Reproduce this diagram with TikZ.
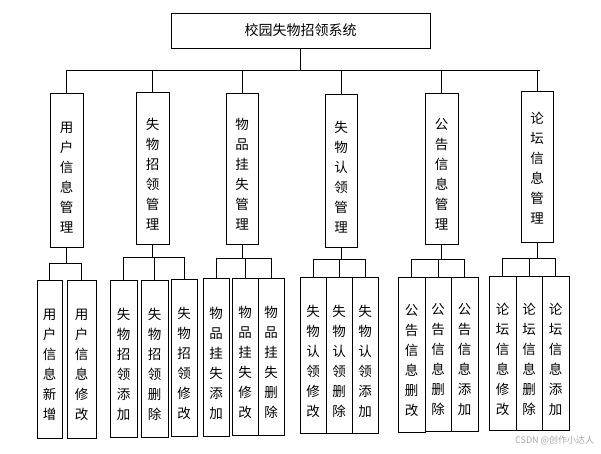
\documentclass[tikz,border=0pt]{standalone}
\usepackage{fontspec}
\setmainfont{Noto Sans CJK SC}
\begin{document}
\begin{tikzpicture}[x=1pt,y=-1pt,line width=0.9pt,
  box/.style={draw,inner sep=0pt},
  txt/.style={align=center,font=\fontsize{13.5}{20}\selectfont,inner sep=0pt}]
\useasboundingbox (0,0) rectangle (601,454);
\newcommand\bx[7]{\node[box,minimum width={(#3-#2)*1pt},minimum height={(#5-#4)*1pt},
  label={[txt,yshift=-#7pt]center:#6}] (#1) at ({(#2+#3)/2},{(#4+#5)/2}) {};}
\bx{root}{171}{430}{13}{48}{\fontsize{14}{16}\selectfont 校园失物招领系统}{0}
\bx{a}{50}{83}{93}{247}{用\\户\\信\\息\\管\\理}{8}
\bx{b}{136}{169}{92}{244}{失\\物\\招\\领\\管\\理}{6}
\bx{c}{226}{258}{93}{244}{物\\品\\挂\\失\\管\\理}{6}
\bx{d}{325}{357}{94}{247}{失\\物\\认\\领\\管\\理}{7}
\bx{e}{425}{458}{93}{244}{公\\告\\信\\息\\管\\理}{6}
\bx{f}{521}{553}{91}{242}{论\\坛\\信\\息\\管\\理}{2}
\coordinate (hl) at (67,70);
\coordinate (hr) at (540,70);
\draw (root.south) -- (root.south |- hl);
\draw (hl) -- (hr);
\foreach \n in {a,b,c,d,e,f} \draw (\n.north) -- (\n.north |- hl);
% level 3
\bx{a1}{37}{62}{280}{438}{用\\户\\信\\息\\新\\增}{6}
\bx{a2}{67}{96}{280}{438}{用\\户\\信\\息\\修\\改}{6}
\bx{b1}{110}{137}{280}{437}{失\\物\\招\\领\\添\\加}{6}
\bx{b2}{141}{168}{280}{437}{失\\物\\招\\领\\删\\除}{6}
\bx{b3}{171}{197}{279}{436}{失\\物\\招\\领\\修\\改}{6}
\bx{c1}{203}{229}{278}{436}{物\\品\\挂\\失\\添\\加}{6}
\bx{c2}{232}{258}{278}{435}{物\\品\\挂\\失\\修\\改}{6}
\bx{c3}{258}{284}{278}{435}{物\\品\\挂\\失\\删\\除}{6}
\bx{d1}{300}{326}{277}{433}{失\\物\\认\\领\\修\\改}{6}
\bx{d2}{326}{352}{277}{433}{失\\物\\认\\领\\删\\除}{6}
\bx{d3}{352}{378}{277}{433}{失\\物\\认\\领\\添\\加}{6}
\bx{e1}{398}{425}{277}{432}{公\\告\\信\\息\\删\\改}{6}
\bx{e2}{425}{451}{277}{431}{公\\告\\信\\息\\删\\除}{6}
\bx{e3}{451}{478}{277}{431}{公\\告\\信\\息\\添\\加}{6}
\bx{f1}{489}{516}{276}{430}{论\\坛\\信\\息\\修\\改}{6}
\bx{f2}{516}{542}{276}{430}{论\\坛\\信\\息\\删\\除}{6}
\bx{f3}{542}{569}{276}{430}{论\\坛\\信\\息\\添\\加}{6}
\coordinate (ya) at (0,263);
\coordinate (yb) at (0,257);
\coordinate (yc) at (0,258);
\coordinate (yd) at (0,259);
\coordinate (ye) at (0,259);
\coordinate (yf) at (0,258);
\foreach \n in {a,b,c,d,e,f} \draw (\n.south) -- (\n.south |- y\n);
\draw (a1.north) -- (a1.north |- ya) -| (a2.north);
\foreach \n in {b,c,d,e,f} {
  \draw (\n1.north) -- (\n1.north |- y\n) -| (\n3.north);
  \draw (\n2.north) -- (\n2.north |- y\n);
}
\node[text=black!35,font=\fontsize{9}{10}\selectfont,anchor=east] (wm) at (598,441) {CSDN @创作小达人};
\end{tikzpicture}
\end{document}
